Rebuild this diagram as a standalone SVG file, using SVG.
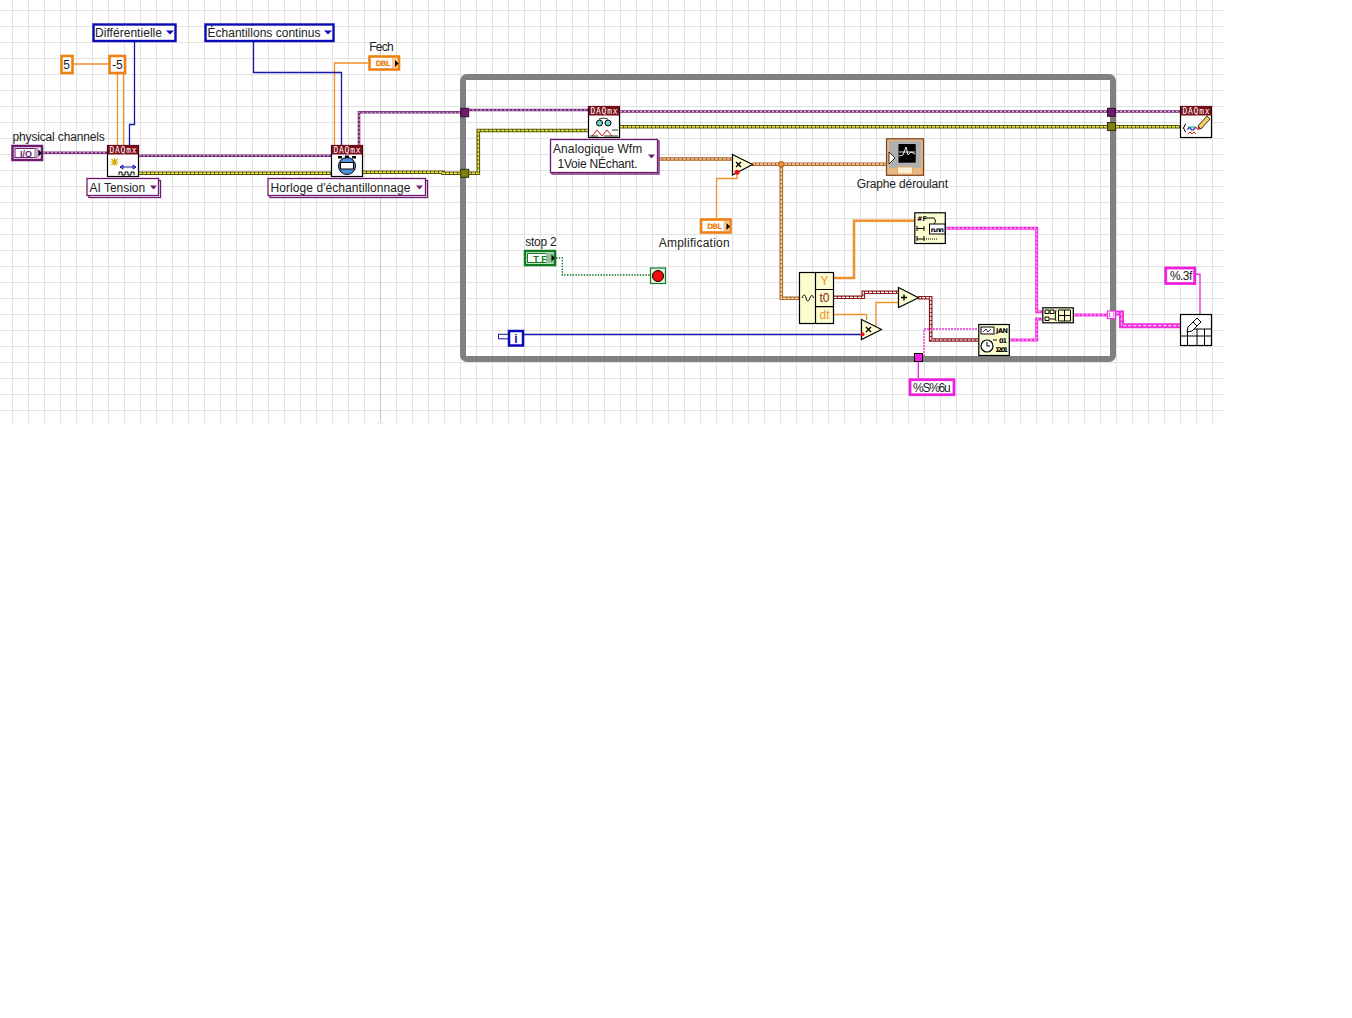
<svg xmlns="http://www.w3.org/2000/svg" width="1352" height="1018" viewBox="0 0 1352 1018">
<style>
text{font-family:"Liberation Sans","Noto Sans",sans-serif;font-size:12px;fill:#222}
.wire{fill:none}
.o1{stroke:#ee9030;stroke-width:1.3}
.o2{stroke:#ee9030;stroke-width:2.6}
.b1{stroke:#1414a8;stroke-width:1.3}
.tk{stroke:#7a2a7a;stroke-width:2.6}
.tk2{stroke:#f0e0f0;stroke-width:.8;stroke-dasharray:2 2}
.er{stroke:#55550f;stroke-width:3.6}
.er2{stroke:#f4f040;stroke-width:1.6;stroke-dasharray:3 1}
.wf{stroke:#b06420;stroke-width:3.6}
.wf2{stroke:#fff0d8;stroke-width:1.2;stroke-dasharray:3 1}
.ts{stroke:#8a1c20;stroke-width:3.6}
.ts2{stroke:#fff;stroke-width:1.2;stroke-dasharray:3 1}
.st{stroke:#f030e0;stroke-width:3}
.st2{stroke:#fbc8f4;stroke-width:1;stroke-dasharray:2 2}
.st1{stroke:#f030e0;stroke-width:1.4}
.stt{stroke:#f030e0;stroke-width:5}
.stt2{stroke:#fbd0f6;stroke-width:1.2;stroke-dasharray:3 2}
.bool{stroke:#0a6a1a;stroke-width:1.3;stroke-dasharray:1.4 1.4}
.enum{fill:#fff;stroke:#0a0ab4;stroke-width:2.4}
.ring{fill:#fff;stroke:#6e1a6e;stroke-width:1.3}
.arrP{fill:#6e1a6e}.arrB{fill:#0a0ab4}
.num{fill:#fff;stroke:#f08010;stroke-width:2.6}
.str{fill:#fff;stroke:#f020e0;stroke-width:2.8}
.node{fill:#fff;stroke:#000;stroke-width:1.2}
.fn{fill:#fdfdd2;stroke:#000;stroke-width:1.2}
.hdr{fill:#7a0c18}
.dq{font-family:"DejaVu Sans Mono","Liberation Mono",monospace;font-size:8px;fill:#fff}
.ic{fill:none;stroke:#000;stroke-width:1}
.icb{fill:none;stroke:#1414a8;stroke-width:1}
.tiny{font-family:"DejaVu Sans","Liberation Sans",sans-serif;font-size:6.5px;font-weight:700;fill:#000}
.dbl{font-family:"DejaVu Sans","Liberation Sans",sans-serif;font-size:7.5px;font-weight:700;fill:#f08010}
</style>
<defs>
<pattern id="grid" patternUnits="userSpaceOnUse" width="16" height="16">
<path d="M12.5 0V16M0 10.5H16" stroke="#e2e2e2" stroke-width="1" fill="none"/>
</pattern>
</defs>
<rect width="1352" height="1018" fill="#fff"/>
<rect x="0" y="0" width="1223" height="423" fill="url(#grid)"/>
<path d="M380.500 0V421" stroke="#c8c8c8" fill="none"/>
<path d="M378 423h1M380 423h1M382 423h1" stroke="#c8c8c8" fill="none"/>

<g id="loop"><rect x="463" y="77" width="650" height="282" rx="4" fill="none" stroke="#808080" stroke-width="6"/></g>

<g id="connectors" class="wire">
<path class="o1" d="M73 64H108M117.500 73V145M123.500 73V145M368 63H334.500V145M716.500 218V178.500H737V172M866.700 314.500V320M834 314.500H866.700M876 326V302.500H898"/>
<path class="b1" d="M134.500 42V124.500H129.500V145M253.500 42V72.500H341.500V145M523 334.500H862"/>
<path class="tk" d="M43 152.700H107M139 155.700H331M359 145V112.300H461M468 110H589M620 111.500H1108M1116 111.500H1180"/>
<path class="tk2" d="M43 152.700H107M139 155.700H331M359 145V112.300H461M468 110H589M620 111.500H1108M1116 111.500H1180"/>
<path class="er" d="M139 173.300H331M363 172.300H443V173.300H461M468 173.300H478.300V130.500H589M620 126.700H1108M1116 126.700H1180"/>
<path class="er2" d="M139 173.300H331M363 172.300H443V173.300H461M468 173.300H478.300V130.500H589M620 126.700H1108M1116 126.700H1180"/>
<path class="wf" d="M659 159H732M752 164.200H886M781.300 164.200V298.300H799"/>
<path class="wf2" d="M659 159H732M752 164.200H886M781.300 164.200V298.300H799"/>
<path class="o2" d="M834 278H854V220.700H914"/>
<path class="ts" d="M834 297.300H863.300V292.300H898M918 297.700H930.700V340H978"/>
<path class="ts2" d="M834 297.300H863.300V292.300H898M918 297.700H930.700V340H978"/>
<path class="bool" d="M556 258H562.300V275H650"/>
<path class="st" d="M946 228.300H1036.700V311.700H1042M1010 340H1036.700V319H1042M1074 315H1107"/>
<path class="st2" d="M946 228.300H1036.700V311.700H1042M1010 340H1036.700V319H1042M1074 315H1107"/>
<path class="st1" d="M918.300 362V378M1196 274.300H1200V314"/>
<path class="st1" stroke-dasharray="2 1" d="M924 356V329H978"/>
<path class="stt" d="M1116 313H1121.500V325.700H1180"/>
<path class="stt2" d="M1116 313H1121.500V325.700H1180"/>
<circle cx="781.300" cy="164.200" r="2.800" fill="#f09030" stroke="#a85a20"/>
</g>

<g id="const-diff"><rect class="enum" x="93.500" y="24.500" width="82" height="16.500"/><text x="95" y="37" textLength="67">Différentielle</text><path class="arrB" d="M166 30.500h8l-4 4z"/></g>
<g id="const-ech"><rect class="enum" x="205.500" y="24.500" width="128" height="16.500"/><text x="207.500" y="37" textLength="113">Échantillons continus</text><path class="arrB" d="M324 30.500h8l-4 4z"/></g>
<g id="const-5"><rect class="num" x="61.500" y="56" width="11" height="17"/><text x="66.500" y="69" text-anchor="middle">5</text></g>
<g id="const-m5"><rect class="num" x="109.500" y="56" width="15.500" height="17"/><text x="117.300" y="69" text-anchor="middle">-5</text></g>
<g id="ctl-phys"><text x="12.500" y="141" textLength="92.300">physical channels</text>
<rect x="12.500" y="146" width="29.500" height="14" fill="#fff" stroke="#6e1a6e" stroke-width="2.500"/><rect x="15" y="148.500" width="22" height="9" fill="#fff" stroke="#6e1a6e"/><rect x="34" y="148.500" width="5" height="9" fill="#c8a8c8"/><text x="26" y="156.500" text-anchor="middle" style="font-size:9px;fill:#6e1a6e;font-weight:700">I/O</text><path d="M38.500 149.500l3.500 3.500-3.500 3.500z" fill="#000"/></g>

<g id="node-create"><rect class="node" x="107.500" y="145.500" width="31" height="31"/><rect class="hdr" x="107.500" y="145" width="31" height="9.500"/><text class="dq" x="109.500" y="153" textLength="27">DAQmx</text>
<path d="M114.500 158v8M110.500 162h8M111.500 159l6 6M117.500 159l-6 6" stroke="#d8a800" stroke-width="1.100"/><path class="icb" d="M120 167H136M120 167l3-2v4zM136 167l-3-2v4z" fill="#1414a8"/><path class="ic" d="M119 175v-3h3v3h3v-3h3v3h3v-3h3v3"/></g>
<g id="ring-ai"><rect class="ring" x="89" y="180.500" width="71.500" height="17"/><rect class="ring" x="87" y="178.500" width="71.500" height="17"/><text x="89.500" y="192" textLength="55.700">AI Tension</text><path class="arrP" d="M150 185.500h7l-3.500 4z"/></g>

<g id="node-clock"><rect class="node" x="331.500" y="145.500" width="31" height="31"/><rect class="hdr" x="331.500" y="145" width="31" height="9.500"/><text class="dq" x="333.500" y="153" textLength="27">DAQmx</text>
<circle cx="347" cy="166" r="8.500" fill="#4a90e0" stroke="#000"/><rect x="340.500" y="162.500" width="13" height="6.500" fill="#fff" stroke="#000"/><rect x="338" y="156" width="4" height="2.500" fill="#000"/><rect x="352" y="156" width="4" height="2.500" fill="#000"/><rect x="345" y="155.500" width="4" height="2.500" fill="#000"/></g>
<g id="ring-horloge"><rect class="ring" x="270" y="180.500" width="157.500" height="17"/><rect class="ring" x="268" y="178.500" width="157.500" height="17"/><text x="270.500" y="192" textLength="140">Horloge d'échantillonnage</text><path class="arrP" d="M416 185.500h7l-3.500 4z"/></g>
<g id="ctl-fech"><text x="369.300" y="50.700" textLength="24.300">Fech</text><rect x="369.500" y="56.500" width="29.500" height="13" fill="#fff" stroke="#f08010" stroke-width="2.600"/><rect x="392" y="58" width="6" height="10" fill="#f8c890"/><text class="dbl" x="375.500" y="66" textLength="15">DBL</text><path d="M395 60l3.500 3.500-3.500 3.500z" fill="#000"/></g>

<g id="tunnels">
<rect x="460.700" y="108.300" width="8" height="8.400" fill="#6e1a6e" stroke="#301030"/>
<rect x="460.700" y="169.300" width="8" height="8" fill="#808010" stroke="#303010"/>
<rect x="1107.500" y="108.300" width="8" height="8" fill="#6e1a6e" stroke="#301030"/>
<rect x="1107.500" y="122.500" width="8" height="8" fill="#808010" stroke="#303010"/>
<rect x="1107.500" y="311" width="8" height="7.500" fill="#fff" stroke="#f030e0" stroke-width="1.200"/><path d="M1110.500 313h-1v3.500h1M1113 313h1v3.500h-1" stroke="#f030e0" stroke-width=".8" fill="none"/>
<rect x="914.500" y="353.500" width="8" height="8" fill="#f020e0" stroke="#000"/>
</g>

<g id="node-read"><rect class="node" x="588.500" y="106.500" width="31" height="31"/><rect class="hdr" x="588.500" y="106" width="31" height="9.500"/><text class="dq" x="590.500" y="114" textLength="27">DAQmx</text>
<circle cx="599.500" cy="123" r="3" fill="#70d0d0" stroke="#000"/><circle cx="608" cy="123" r="3" fill="#70d0d0" stroke="#000"/><path d="M599 119l4.500-1 4.500 1" fill="none" stroke="#000" stroke-width=".8"/><path d="M592 136l5-6 5 6 5-6 5 6" fill="none" stroke="#d02020"/><path d="M590 136h8M604 136h14M612 130h6" fill="none" stroke="#000" stroke-width=".8"/></g>
<g id="ring-analog"><rect class="ring" x="552" y="141" width="107" height="33"/><rect class="ring" x="550.500" y="139.500" width="107" height="33"/><text x="553" y="153.300" textLength="89.300">Analogique Wfm</text><text x="557.500" y="167.700" textLength="80">1Voie NÉchant.</text><path class="arrP" d="M648 154.500h7l-3.500 4z"/></g>
<g id="node-mul1"><path class="fn" d="M732.500 154.500L752.500 164.500L732.500 175z"/><path d="M736 162l5 5M741 162l-5 5" stroke="#000" stroke-width="1.400"/><circle cx="737" cy="172.300" r="2.500" fill="#f01010"/></g>
<g id="ctl-amp"><rect x="701" y="219.500" width="29.500" height="13" fill="#fff" stroke="#f08010" stroke-width="2.600"/><rect x="723.500" y="221" width="6" height="10" fill="#f8c890"/><text class="dbl" x="707" y="229" textLength="15">DBL</text><path d="M726.500 223l3.500 3.500-3.500 3.500z" fill="#000"/><text x="658.700" y="246.700" textLength="71">Amplification</text></g>
<g id="ctl-stop"><text x="525.300" y="246" textLength="31.300">stop 2</text><rect x="525" y="251" width="30" height="14" fill="#fff" stroke="#107a20" stroke-width="2.500"/><rect x="527.500" y="253.500" width="22" height="9" fill="#fff" stroke="#107a20"/><rect x="546" y="253" width="8" height="10" fill="#90c098"/><text x="540" y="261.500" text-anchor="middle" style="font-size:9px;font-weight:700;fill:#107a20">T F</text><path d="M551.500 254.500l3.500 3.500-3.500 3.500z" fill="#000"/></g>
<g id="term-stop"><rect x="650.500" y="268" width="15" height="15.500" fill="#e8f4e0" stroke="#107a20" stroke-width="1.200"/><circle cx="658" cy="276" r="5.500" fill="#f01010" stroke="#000"/></g>
<g id="term-i"><rect x="498.500" y="334.300" width="10" height="4.500" fill="#fff" stroke="#1414a8"/><rect x="509" y="331" width="14" height="14.500" fill="#fff" stroke="#0a0ab4" stroke-width="2.500"/><text x="516" y="342.500" text-anchor="middle" style="font-weight:700;fill:#1414a8">i</text></g>

<g id="node-graph"><rect x="886.500" y="138.800" width="37" height="36.500" fill="#e8b880" stroke="#7a4020" stroke-width="1.200"/><rect x="889" y="141" width="32" height="27" fill="#b0b0b0"/><rect x="898.500" y="144" width="17.200" height="18.700" fill="#000"/><path d="M899 156l4-1 3-8 2 8 3-3 4 2M899 152h16" fill="none" stroke="#fff" stroke-width=".9"/><path d="M889 152l6 6-6 6z" fill="#fff" stroke="#000" stroke-width=".8"/><rect x="897.500" y="167" width="15" height="7" fill="#fdf0d8" stroke="#e8a860"/><text x="856.700" y="188.300" textLength="91.300">Graphe déroulant</text></g>

<g id="node-format"><rect class="fn" x="914.800" y="212.800" width="30.500" height="30.700"/><text class="tiny" x="917" y="220.500">#F</text><path class="ic" d="M917 228.500h7M917 226v5M924 226v5M917 239h7M917 236v5M924 236v5"/><path d="M926 218h8a4 4 0 0 1 0 6" class="ic"/><rect x="929.500" y="224" width="15.500" height="10" fill="#fff" stroke="#000"/><text class="tiny" x="930.800" y="231.500" textLength="13">n.nn</text><path d="M924 239h13" stroke="#000" stroke-dasharray="1 1"/></g>

<g id="node-wf"><rect class="fn" x="799.500" y="272.500" width="34" height="51"/><path d="M815.500 272.500V323.500M815.500 289.500H833.500M815.500 306.700H833.500" stroke="#000" fill="none" stroke-width="1.200"/><path d="M802 298c1.500-4 3-4 4 0s2.500 4 4 0 2.500-3 3.500 0" class="ic"/><text x="824.500" y="285" text-anchor="middle" style="fill:#ee9030">Y</text><text x="824.500" y="302" text-anchor="middle" style="fill:#8a1c20">t0</text><text x="824.500" y="319" text-anchor="middle" style="fill:#ee9030">dt</text></g>
<g id="node-mul2"><path class="fn" d="M861.500 319.500L881.500 329.500L861.500 339.500z"/><path d="M866 327l5 5M871 327l-5 5" stroke="#000" stroke-width="1.400"/><circle cx="862.500" cy="334.300" r="2" fill="#f01010"/></g>
<g id="node-add"><path class="fn" d="M898.500 287.500L918.500 297.700L898.500 307.500z"/><path d="M901 297.500h6M904 294.500v6" stroke="#000" stroke-width="1.400"/></g>

<g id="node-date"><rect class="fn" x="978.800" y="324.500" width="30.500" height="31"/><rect x="981" y="327" width="13" height="7" fill="#fff" stroke="#000"/><path d="M983 332l3-3 2 3 3-3" stroke="#000" fill="none" stroke-width=".8"/><circle cx="987" cy="346" r="6" fill="#fff" stroke="#000" stroke-width="1.200"/><path d="M987 342v4h3M993 340h4" stroke="#000" fill="none"/><text class="tiny" x="996" y="333" textLength="12">JAN</text><text class="tiny" x="999" y="342.500" textLength="8">01</text><text class="tiny" x="995" y="351.500" textLength="13">12:01</text></g>
<g id="const-fmt"><rect class="str" x="910" y="379.700" width="44" height="15"/><text x="913" y="392" textLength="37.700">%S%6u</text></g>

<g id="node-build"><rect class="fn" x="1042.800" y="307.800" width="30.500" height="15"/><path class="ic" stroke-width=".8" d="M1045 310h4v3.500h-4zM1050 310h4v3.500h-4zM1045 317h4v3.500h-4zM1050 319h5M1056 310c-1 4-1 8 0 11M1058.500 310h12v11h-12zM1064.500 310v11M1058.500 315.500h12"/></g>

<g id="node-write"><rect class="node" x="1180.500" y="106.500" width="31" height="31"/><rect class="hdr" x="1180.500" y="106" width="31" height="9.500"/><text class="dq" x="1182.500" y="114" textLength="27">DAQmx</text><path d="M1198 126l9-10 3 3-9 10z" fill="#f8d060" stroke="#000" stroke-width=".8"/><path d="M1198 126l3 3-4 1z" fill="#d02020"/><path d="M1186 124c-2 0-1 4-3 4 2 0 1 4 3 4" class="ic"/><path d="M1188 127h8" stroke="#10a060" fill="none"/><path d="M1188 130v-2h3v2h3v-2h3" class="icb"/><path d="M1188 134l2-2 2 2 2-2 2 2" stroke="#d02020" fill="none"/></g>

<g id="const-3f"><rect class="str" x="1165.700" y="268" width="29" height="15.500"/><text x="1170" y="280" textLength="22.300">%.3f</text></g>
<g id="node-sheet"><rect class="node" x="1180.500" y="314.500" width="31" height="31"/><path class="ic" d="M1187.500 329H1211.500M1187.500 336H1211.500M1180.500 336H1187.500M1187.500 329V345.500M1197 329V345.500M1204.500 329V345.500"/><path d="M1188 327l9-9 4 4-9 9-5 1z" fill="#fff" stroke="#000"/><path d="M1193 322l4 4" stroke="#000"/></g>
</svg>
